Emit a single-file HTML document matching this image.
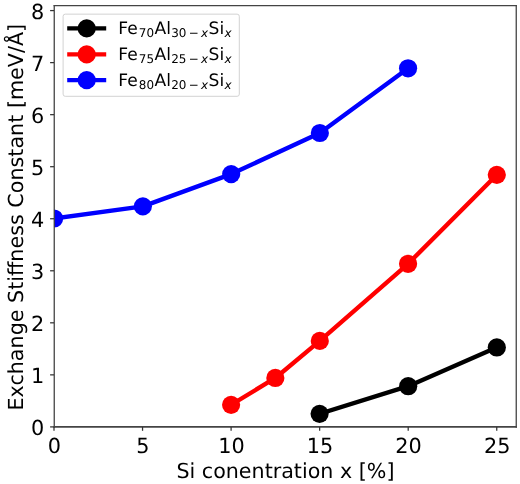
<!DOCTYPE html>
<html><head><meta charset="utf-8"><title>Exchange stiffness vs Si concentration</title>
<style>html,body{margin:0;padding:0;background:#fff;}svg{display:block}text{font-family:'DejaVu Sans','Liberation Sans',sans-serif;fill:#000;text-rendering:geometricPrecision}</style>
</head><body>
<svg width="520" height="484" viewBox="0 0 520 484">
<rect x="0" y="0" width="520" height="484" fill="#fff"/>
<defs><clipPath id="ax"><rect x="54.0" y="5.5" width="462.0" height="421.4"/></clipPath></defs>
<g clip-path="url(#ax)">
<path d="M319.60 413.85 L408.20 386.20 L496.80 347.45" fill="none" stroke="#000" stroke-width="4.4" stroke-linejoin="round" stroke-linecap="square"/>
<circle cx="319.60" cy="413.85" r="9.1" fill="#000"/>
<circle cx="408.20" cy="386.20" r="9.1" fill="#000"/>
<circle cx="496.80" cy="347.45" r="9.1" fill="#000"/>
<path d="M231.10 404.85 L275.35 377.97 L319.80 340.90 L408.07 263.80 L496.80 174.85" fill="none" stroke="#f00" stroke-width="4.4" stroke-linejoin="round" stroke-linecap="square"/>
<circle cx="231.10" cy="404.85" r="9.1" fill="#f00"/>
<circle cx="275.35" cy="377.97" r="9.1" fill="#f00"/>
<circle cx="319.80" cy="340.90" r="9.1" fill="#f00"/>
<circle cx="408.07" cy="263.80" r="9.1" fill="#f00"/>
<circle cx="496.80" cy="174.85" r="9.1" fill="#f00"/>
<path d="M54.10 218.50 L142.85 206.35 L231.20 174.10 L319.85 133.00 L408.07 68.30" fill="none" stroke="#00f" stroke-width="4.4" stroke-linejoin="round" stroke-linecap="square"/>
<circle cx="54.10" cy="218.50" r="9.1" fill="#00f"/>
<circle cx="142.85" cy="206.35" r="9.1" fill="#00f"/>
<circle cx="231.20" cy="174.10" r="9.1" fill="#00f"/>
<circle cx="319.85" cy="133.00" r="9.1" fill="#00f"/>
<circle cx="408.07" cy="68.30" r="9.1" fill="#00f"/>
</g>
<g stroke="#444" fill="none"><line x1="54.25" y1="5" x2="54.25" y2="427.8" stroke-width="1.3"/><line x1="516.25" y1="5" x2="516.25" y2="427.8" stroke-width="1.3"/><line x1="53.6" y1="5.55" x2="516.9" y2="5.55" stroke-width="1.35"/><line x1="53.6" y1="426.95" x2="516.9" y2="426.95" stroke-width="1.7"/></g>
<line x1="54.00" y1="426.9" x2="54.00" y2="430.79999999999995" stroke="#333" stroke-width="1.25"/>
<text x="54.40" y="453.20" text-anchor="middle" font-size="20.8">0</text>
<line x1="142.55" y1="426.9" x2="142.55" y2="430.79999999999995" stroke="#333" stroke-width="1.25"/>
<text x="142.95" y="453.20" text-anchor="middle" font-size="20.8">5</text>
<line x1="231.10" y1="426.9" x2="231.10" y2="430.79999999999995" stroke="#333" stroke-width="1.25"/>
<text x="231.50" y="453.20" text-anchor="middle" font-size="20.8">10</text>
<line x1="319.65" y1="426.9" x2="319.65" y2="430.79999999999995" stroke="#333" stroke-width="1.25"/>
<text x="320.05" y="453.20" text-anchor="middle" font-size="20.8">15</text>
<line x1="408.20" y1="426.9" x2="408.20" y2="430.79999999999995" stroke="#333" stroke-width="1.25"/>
<text x="408.60" y="453.20" text-anchor="middle" font-size="20.8">20</text>
<line x1="496.75" y1="426.9" x2="496.75" y2="430.79999999999995" stroke="#333" stroke-width="1.25"/>
<text x="497.15" y="453.20" text-anchor="middle" font-size="20.8">25</text>
<line x1="50.1" y1="426.90" x2="54.0" y2="426.90" stroke="#333" stroke-width="1.25"/>
<text x="44.20" y="435.10" text-anchor="end" font-size="20.8">0</text>
<line x1="50.1" y1="374.86" x2="54.0" y2="374.86" stroke="#333" stroke-width="1.25"/>
<text x="44.20" y="383.06" text-anchor="end" font-size="20.8">1</text>
<line x1="50.1" y1="322.82" x2="54.0" y2="322.82" stroke="#333" stroke-width="1.25"/>
<text x="44.20" y="331.02" text-anchor="end" font-size="20.8">2</text>
<line x1="50.1" y1="270.78" x2="54.0" y2="270.78" stroke="#333" stroke-width="1.25"/>
<text x="44.20" y="278.98" text-anchor="end" font-size="20.8">3</text>
<line x1="50.1" y1="218.74" x2="54.0" y2="218.74" stroke="#333" stroke-width="1.25"/>
<text x="44.20" y="226.94" text-anchor="end" font-size="20.8">4</text>
<line x1="50.1" y1="166.70" x2="54.0" y2="166.70" stroke="#333" stroke-width="1.25"/>
<text x="44.20" y="174.90" text-anchor="end" font-size="20.8">5</text>
<line x1="50.1" y1="114.66" x2="54.0" y2="114.66" stroke="#333" stroke-width="1.25"/>
<text x="44.20" y="122.86" text-anchor="end" font-size="20.8">6</text>
<line x1="50.1" y1="62.62" x2="54.0" y2="62.62" stroke="#333" stroke-width="1.25"/>
<text x="44.20" y="70.82" text-anchor="end" font-size="20.8">7</text>
<line x1="50.1" y1="10.58" x2="54.0" y2="10.58" stroke="#333" stroke-width="1.25"/>
<text x="44.20" y="18.78" text-anchor="end" font-size="20.8">8</text>
<text x="285.45" y="477.6" text-anchor="middle" font-size="20.65">Si conentration x [%]</text>
<text transform="translate(23.4 217.2) rotate(-90)" x="0" y="0" text-anchor="middle" font-size="20.7">Exchange Stiffness Constant [meV/Å]</text>
<rect x="63.1" y="14.15" width="176.2" height="82.15" rx="2.2" ry="2.2" fill="#fff" fill-opacity="0.8" stroke="#d2d2d2" stroke-width="1.0"/>
<line x1="67.2" y1="28.4" x2="106.2" y2="28.4" stroke="#000" stroke-width="4.4"/>
<circle cx="86.7" cy="28.4" r="9.1" fill="#000"/>
<text><tspan x="118.30" y="33.90" font-size="17.10">Fe</tspan><tspan x="138.82" y="37.11" font-size="11.97">70</tspan><tspan x="154.52" y="33.90" font-size="17.10">Al</tspan><tspan x="171.13" y="37.11" font-size="11.97">30</tspan><tspan x="188.69" y="37.11" font-size="11.97">−</tspan><tspan x="201.06" y="37.11" font-size="11.97" font-style="oblique">x</tspan><tspan x="208.61" y="33.90" font-size="17.10">Si</tspan><tspan x="224.38" y="37.11" font-size="11.97" font-style="oblique">x</tspan></text>
<line x1="67.2" y1="54.4" x2="106.2" y2="54.4" stroke="#f00" stroke-width="4.4"/>
<circle cx="86.7" cy="54.4" r="9.1" fill="#f00"/>
<text><tspan x="118.30" y="59.75" font-size="17.10">Fe</tspan><tspan x="138.82" y="62.96" font-size="11.97">75</tspan><tspan x="154.52" y="59.75" font-size="17.10">Al</tspan><tspan x="171.13" y="62.96" font-size="11.97">25</tspan><tspan x="188.69" y="62.96" font-size="11.97">−</tspan><tspan x="201.06" y="62.96" font-size="11.97" font-style="oblique">x</tspan><tspan x="208.61" y="59.75" font-size="17.10">Si</tspan><tspan x="224.38" y="62.96" font-size="11.97" font-style="oblique">x</tspan></text>
<line x1="67.2" y1="80.15" x2="106.2" y2="80.15" stroke="#00f" stroke-width="4.4"/>
<circle cx="86.7" cy="80.15" r="9.1" fill="#00f"/>
<text><tspan x="118.30" y="85.60" font-size="17.10">Fe</tspan><tspan x="138.82" y="88.81" font-size="11.97">80</tspan><tspan x="154.52" y="85.60" font-size="17.10">Al</tspan><tspan x="171.13" y="88.81" font-size="11.97">20</tspan><tspan x="188.69" y="88.81" font-size="11.97">−</tspan><tspan x="201.06" y="88.81" font-size="11.97" font-style="oblique">x</tspan><tspan x="208.61" y="85.60" font-size="17.10">Si</tspan><tspan x="224.38" y="88.81" font-size="11.97" font-style="oblique">x</tspan></text>
</svg>
</body></html>
